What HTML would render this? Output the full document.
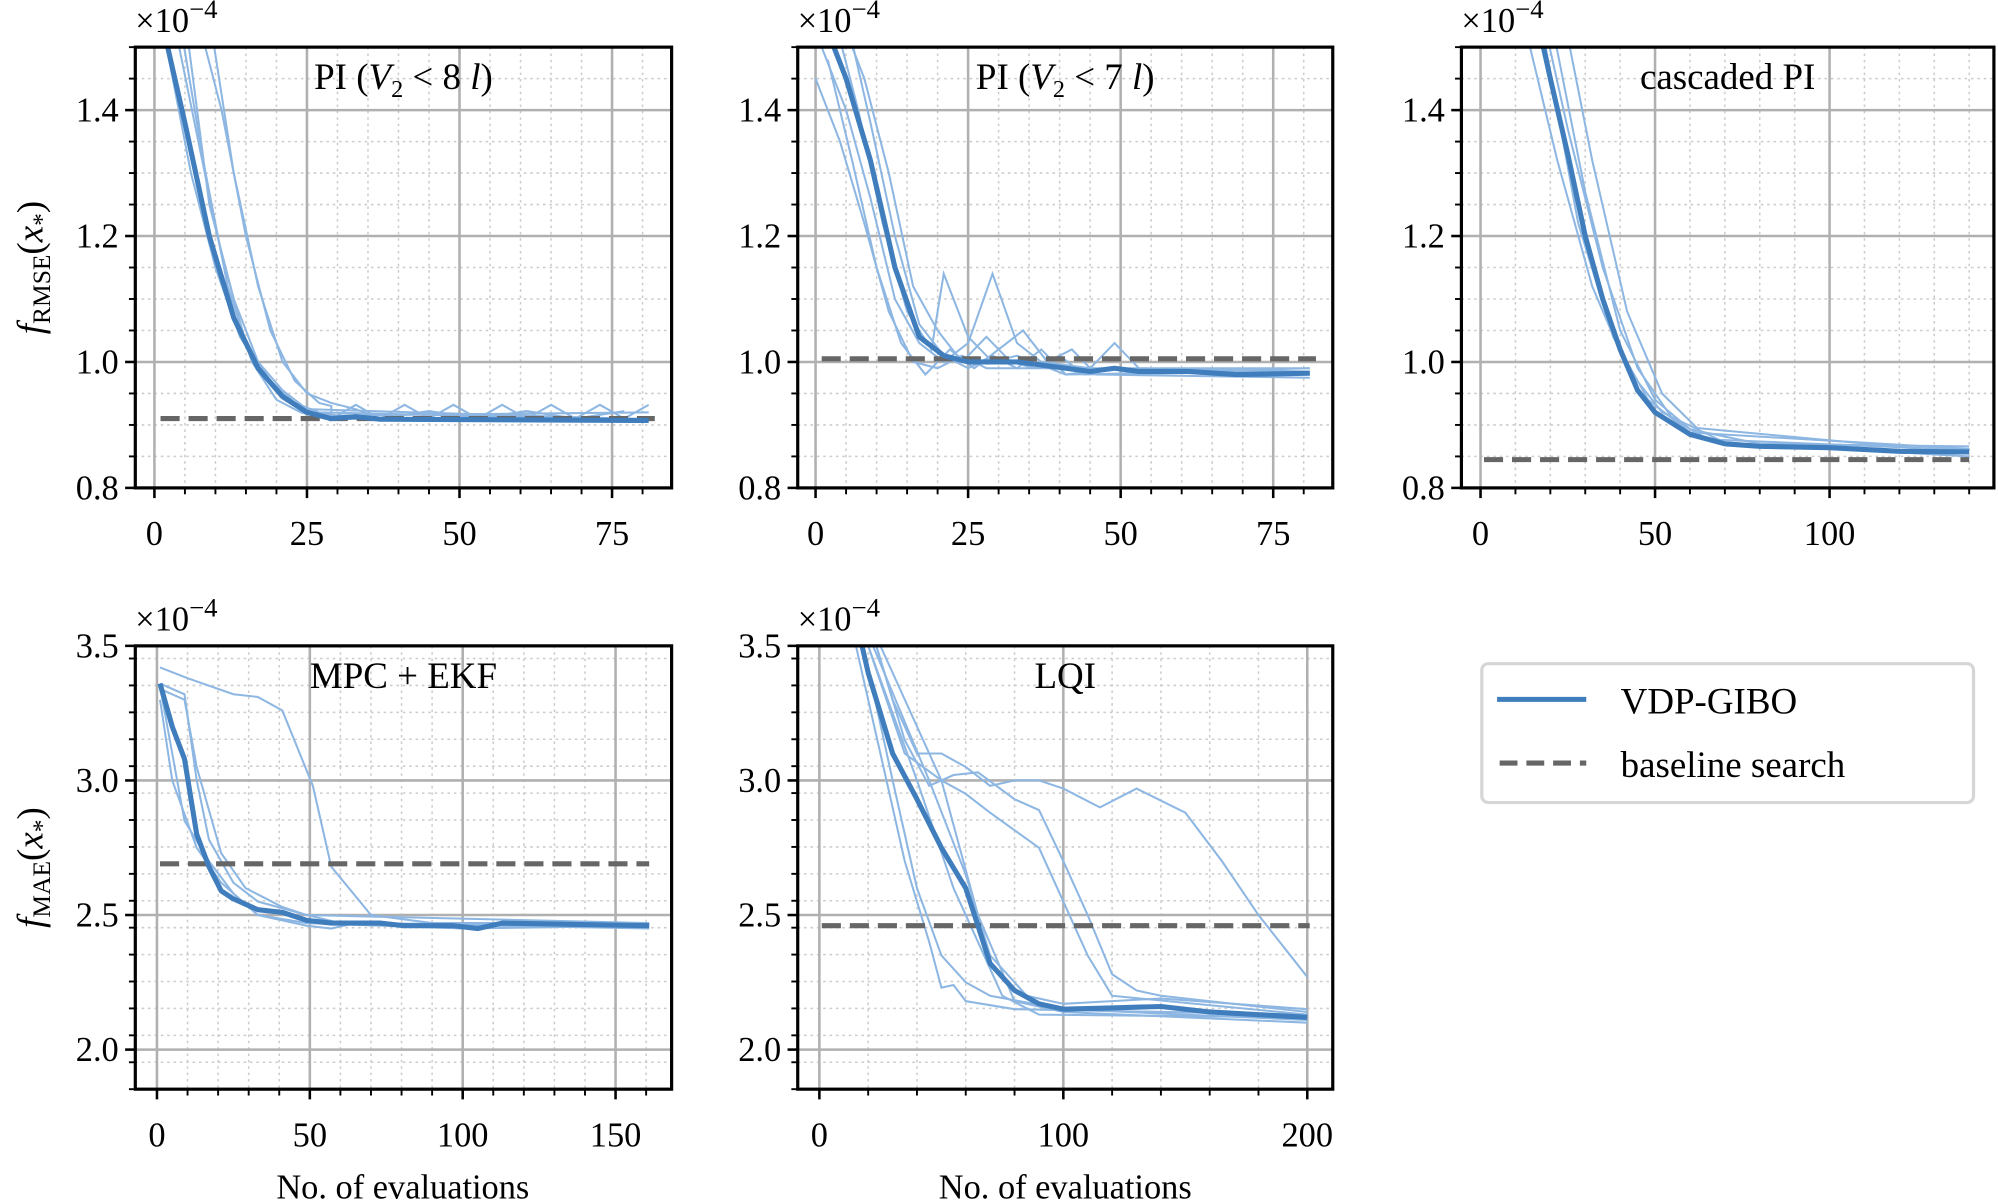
<!DOCTYPE html>
<html><head><meta charset="utf-8"><style>
html,body{margin:0;padding:0;background:#fff}
svg{display:block}
text{font-family:"Liberation Serif",serif;fill:#000}
</style></head><body>
<svg id="s" width="1998" height="1200" viewBox="0 0 1568 942" xmlns="http://www.w3.org/2000/svg"></svg>
<script>
const S=document.getElementById('s');let out='';
function mk(ax){
 ax.X=v=>ax.xa+(v-0)*ax.k; ax.Y=v=>ax.b-(v-ax.y0)*(ax.b-ax.t)/(ax.y1-ax.y0);
 let g='';
 for(let v=ax.y0;v<=ax.y1+1e-9;v+=ax.ymin){let y=ax.Y(v);g+=`<line x1="${ax.l}" x2="${ax.r}" y1="${y}" y2="${y}" stroke="#ccc" stroke-width="1.2" stroke-dasharray="2,3"/>`;
  g+=`<line x1="${ax.l-5}" x2="${ax.l}" y1="${y}" y2="${y}" stroke="#000" stroke-width="1.5"/>`;}
 for(let v=0;ax.X(v)<=ax.r;v+=ax.xmin){let x=ax.X(v);g+=`<line y1="${ax.t}" y2="${ax.b}" x1="${x}" x2="${x}" stroke="#ccc" stroke-width="1.2" stroke-dasharray="2,3"/>`;
  g+=`<line y1="${ax.b}" y2="${ax.b+5}" x1="${x}" x2="${x}" stroke="#000" stroke-width="1.5"/>`;}
 ax.yt.forEach(v=>{let y=ax.Y(v);g+=`<line x1="${ax.l}" x2="${ax.r}" y1="${y}" y2="${y}" stroke="#b0b0b0" stroke-width="2"/><line x1="${ax.l-8}" x2="${ax.l}" y1="${y}" y2="${y}" stroke="#000" stroke-width="2"/><text x="${ax.l-13}" y="${y+9}" font-size="27" text-anchor="end">${v.toFixed(1)}</text>`;});
 ax.xt.forEach(v=>{let x=ax.X(v);g+=`<line y1="${ax.t}" y2="${ax.b}" x1="${x}" x2="${x}" stroke="#b0b0b0" stroke-width="2"/><line y1="${ax.b}" y2="${ax.b+8}" x1="${x}" x2="${x}" stroke="#000" stroke-width="2"/><text x="${x}" y="${ax.b+45}" font-size="27" text-anchor="middle">${v}</text>`;});
 g+=`<defs><clipPath id="c${ax.id}"><rect x="${ax.l}" y="${ax.t}" width="${ax.r-ax.l}" height="${ax.b-ax.t}"/></clipPath></defs><g clip-path="url(#c${ax.id})">`;
 const path=pts=>pts.map((p,i)=>(i?'L':'M')+ax.X(p[0]).toFixed(1)+','+ax.Y(p[1]).toFixed(1)).join('');
 ax.thin.forEach(pts=>{g+=`<path d="${path(pts)}" fill="none" stroke="#8db7e2" stroke-width="1.6"/>`;});
 g+=`<path d="${path([[1,ax.base],[ax.xe,ax.base]])}" stroke="#666" stroke-width="4" stroke-dasharray="15,7"/>`;
 g+=`<path d="${path(ax.mean)}" fill="none" stroke="#3f7dbd" stroke-width="4" stroke-linejoin="round"/>`;
 g+='</g>';
 g+=`<rect x="${ax.l}" y="${ax.t}" width="${ax.r-ax.l}" height="${ax.b-ax.t}" fill="none" stroke="#000" stroke-width="2.5"/>`;
 g+=`<text x="${ax.l}" y="${ax.t-12}" font-size="27">×10<tspan dy="-11" font-size="21">−4</tspan></text>`;
 g+=`<text x="${(ax.l+ax.r)/2+ax.tx}" y="${ax.t+33}" font-size="29" text-anchor="middle">${ax.title}</text>`;
 out+=g;
}
function zig(n0,n1,step,lo,hi,ph){let a=[];for(let x=n0;x<=n1;x+=step){a.push([x,((x/step+ph)%2<1)?lo:hi]);}return a;}
const m1=[[1,1.55],[5,1.38],[9,1.2],[13,1.07],[17,0.99],[21,0.945],[25,0.92],[29,0.91],[33,0.913],[37,0.909],[81,0.907]];
mk({id:1,l:106,r:527,t:37,b:383,xa:121,k:4.79,y0:0.8,y1:1.5,ymin:0.05,xmin:5,yt:[0.8,1.0,1.2,1.4],xt:[0,25,50,75],base:0.91,xe:82,tx:0,
 title:'PI (<tspan font-style="italic">V</tspan><tspan font-size="19" dy="6">2</tspan><tspan dy="-6"> &lt; 8</tspan><tspan font-style="italic"> l</tspan>)',
 mean:m1,thin:[
 [[3,1.55],[7,1.36],[11,1.17],[15,1.03],[19,0.97],[23,0.935],[27,0.92],[81,0.908]],
 [[4,1.55],[8,1.32],[12,1.12],[16,1.0],[20,0.94],[24,0.92],[28,0.91],[81,0.906]],
 [[7,1.55],[11,1.4],[15,1.2],[19,1.05],[23,0.97],[27,0.935],[29,0.93]].concat(zig(29,81,4,0.932,0.91,0)),
 [[9,1.55],[13,1.3],[17,1.12],[21,1.0],[25,0.95],[29,0.935],[33,0.925],[37,0.91]].concat(zig(37,81,8,0.91,0.922,0)),
 [[2,1.5],[6,1.3],[10,1.15],[14,1.04],[18,0.98],[22,0.94],[26,0.92],[30,0.915],[81,0.92]],
 [[5,1.55],[9,1.25],[13,1.1],[17,1.0],[21,0.955],[25,0.925],[81,0.909]]]});
mk({id:2,l:626,r:1046,t:37,b:383,xa:640,k:4.79,y0:0.8,y1:1.5,ymin:0.05,xmin:5,yt:[0.8,1.0,1.2,1.4],xt:[0,25,50,75],base:1.005,xe:82,tx:0,
 title:'PI (<tspan font-style="italic">V</tspan><tspan font-size="19" dy="6">2</tspan><tspan dy="-6"> &lt; 7</tspan><tspan font-style="italic"> l</tspan>)',
 mean:[[1,1.55],[5,1.45],[9,1.32],[13,1.15],[17,1.04],[21,1.01],[25,1.0],[33,1.0],[41,0.99],[45,0.985],[49,0.99],[53,0.985],[61,0.985],[69,0.98],[81,0.982]],
 thin:[
 [[3,1.55],[7,1.4],[11,1.22],[15,1.08],[19,1.02],[21,1.14],[25,1.04],[29,1.0],[33,1.01],[41,0.98],[49,0.99],[81,0.98]],
 [[1,1.5],[5,1.4],[9,1.26],[13,1.1],[17,1.03],[21,1.0],[25,1.03],[29,1.14],[33,1.03],[37,1.0],[45,0.99],[49,1.03],[53,0.99],[81,0.985]],
 [[2,1.48],[6,1.32],[10,1.15],[14,1.03],[18,0.98],[22,1.02],[26,0.99],[30,1.02],[34,1.05],[38,1.0],[42,1.02],[46,0.98],[81,0.975]],
 [[4,1.55],[8,1.45],[12,1.3],[16,1.12],[20,1.05],[24,1.0],[28,1.04],[32,1.0],[36,0.99],[40,1.01],[44,0.98],[81,0.99]],
 [[5,1.55],[9,1.38],[13,1.2],[17,1.06],[21,1.01],[25,0.99],[29,1.01],[33,0.99],[37,1.02],[41,0.98],[81,0.985]],
 [[0,1.45],[4,1.35],[8,1.22],[12,1.08],[16,1.0],[20,0.99],[24,1.01],[28,0.99],[81,0.99]]]});
mk({id:3,l:1147,r:1565,t:37,b:383,xa:1162,k:2.74,y0:0.8,y1:1.5,ymin:0.05,xmin:10,yt:[0.8,1.0,1.2,1.4],xt:[0,50,100],base:0.845,xe:140,tx:0,
 title:'cascaded PI',
 mean:[[1,1.9],[10,1.7],[20,1.45],[25,1.33],[30,1.2],[35,1.1],[40,1.02],[45,0.955],[50,0.92],[60,0.885],[70,0.87],[80,0.866],[100,0.864],[120,0.858],[140,0.857]],
 thin:[
 [[5,1.85],[15,1.62],[25,1.37],[35,1.15],[45,0.99],[55,0.91],[65,0.877],[140,0.86]],
 [[10,1.85],[20,1.55],[30,1.27],[40,1.05],[50,0.94],[60,0.893],[80,0.87],[140,0.866]],
 [[12,1.85],[22,1.6],[32,1.32],[42,1.08],[52,0.95],[62,0.895],[140,0.855]],
 [[1,1.75],[12,1.55],[22,1.32],[32,1.12],[42,0.99],[52,0.92],[70,0.872],[140,0.85]],
 [[8,1.85],[18,1.52],[28,1.22],[38,1.04],[48,0.94],[60,0.888],[140,0.862]]]});
mk({id:4,l:106,r:527,t:507,b:855,xa:123,k:2.4,y0:1.853,y1:3.5,ymin:0.1,xmin:10,yt:[2.0,2.5,3.0,3.5],xt:[0,50,100,150],base:2.69,xe:161,tx:0,
 title:'MPC + EKF',
 mean:[[1,3.36],[5,3.2],[9,3.08],[13,2.8],[17,2.68],[21,2.59],[25,2.56],[33,2.52],[41,2.51],[49,2.48],[57,2.47],[73,2.47],[81,2.46],[97,2.46],[105,2.45],[113,2.47],[161,2.46]],
 thin:[
 [[1,3.42],[10,3.38],[25,3.32],[33,3.31],[41,3.26],[51,2.98],[57,2.68],[70,2.5],[90,2.47],[161,2.47]],
 [[1,3.36],[9,3.32],[13,3.0],[17,2.78],[25,2.62],[33,2.55],[49,2.5],[60,2.47],[161,2.46]],
 [[1,3.35],[5,3.1],[9,2.85],[17,2.7],[25,2.58],[33,2.5],[49,2.46],[57,2.45],[65,2.47],[161,2.45]],
 [[1,3.34],[9,3.3],[13,3.05],[21,2.73],[29,2.6],[41,2.53],[49,2.5],[161,2.47]],
 [[1,3.3],[5,3.0],[13,2.75],[21,2.62],[33,2.5],[49,2.47],[100,2.45],[161,2.46]]]});
mk({id:5,l:626,r:1046,t:507,b:855,xa:643,k:1.915,y0:1.853,y1:3.5,ymin:0.1,xmin:20,yt:[2.0,2.5,3.0,3.5],xt:[0,100,200],base:2.46,xe:201,tx:0,
 title:'LQI',
 mean:[[15,3.6],[20,3.4],[30,3.1],[40,2.93],[50,2.75],[60,2.6],[65,2.46],[70,2.32],[80,2.22],[90,2.17],[100,2.15],[120,2.155],[140,2.16],[160,2.14],[180,2.13],[200,2.12]],
 thin:[
 [[20,3.6],[30,3.3],[40,3.1],[50,3.1],[60,3.05],[70,2.98],[80,3.0],[90,3.0],[100,2.97],[115,2.9],[130,2.97],[150,2.88],[165,2.7],[180,2.5],[200,2.27]],
 [[20,3.6],[35,3.15],[45,2.98],[55,3.02],[65,3.03],[80,2.93],[90,2.89],[100,2.7],[110,2.5],[120,2.28],[130,2.22],[140,2.2],[200,2.14]],
 [[20,3.5],[35,3.1],[50,3.0],[60,2.95],[70,2.88],[90,2.75],[100,2.55],[110,2.35],[120,2.2],[200,2.13]],
 [[15,3.5],[25,3.1],[35,2.7],[45,2.4],[50,2.23],[55,2.24],[60,2.18],[80,2.15],[200,2.13]],
 [[18,3.5],[30,3.0],[40,2.6],[50,2.35],[60,2.25],[70,2.2],[100,2.15],[200,2.11]],
 [[20,3.5],[40,3.0],[55,2.6],[65,2.4],[75,2.2],[90,2.13],[200,2.12]],
 [[22,3.5],[45,3.0],[60,2.65],[70,2.35],[85,2.2],[100,2.17],[140,2.19],[200,2.15]],
 [[25,3.5],[50,3.0],[65,2.5],[80,2.18],[100,2.14],[200,2.1]]]});
out+=`<text transform="translate(33,210) rotate(-90)" font-size="29" text-anchor="middle"><tspan font-style="italic">f</tspan><tspan font-size="20" dy="6">RMSE</tspan><tspan dy="-6">(</tspan><tspan font-style="italic">x</tspan><tspan font-size="20" dy="6">*</tspan><tspan dy="-6">)</tspan></text>`;
out+=`<text transform="translate(33,681) rotate(-90)" font-size="29" text-anchor="middle"><tspan font-style="italic">f</tspan><tspan font-size="20" dy="6">MAE</tspan><tspan dy="-6">(</tspan><tspan font-style="italic">x</tspan><tspan font-size="20" dy="6">*</tspan><tspan dy="-6">)</tspan></text>`;
out+=`<text x="316" y="941" font-size="27" text-anchor="middle">No. of evaluations</text><text x="836" y="941" font-size="27" text-anchor="middle">No. of evaluations</text>`;
out+=`<rect x="1163" y="521" width="386" height="109" rx="5" fill="#fff" stroke="#d6d6d6" stroke-width="2.5"/>
<line x1="1175" x2="1245" y1="549" y2="549" stroke="#3f7dbd" stroke-width="4"/>
<line x1="1177" x2="1245" y1="599" y2="599" stroke="#666" stroke-width="4" stroke-dasharray="14,7"/>
<text x="1272" y="560" font-size="29">VDP-GIBO</text><text x="1272" y="610" font-size="29">baseline search</text>`;
S.innerHTML=out;
</script>
</body></html>
